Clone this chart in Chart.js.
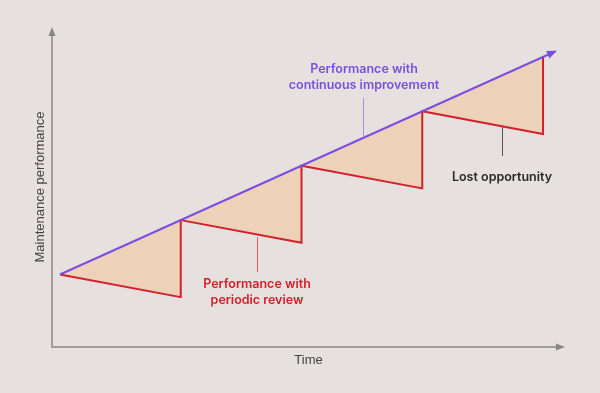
<!DOCTYPE html>
<html>
<head>
<meta charset="utf-8">
<script src="https://cdn.jsdelivr.net/npm/chart.js@4"></script>
<style>
  html, body { margin: 0; padding: 0; background: #e6e0df; }
  #wrap { width: 600px; height: 393px; position: relative; }
</style>
</head>
<body>
<div id="wrap"><canvas id="myChart"></canvas></div>
<script>
// time in review periods, performance in arbitrary units
const continuousTime = [0, 4.1];
const continuousPerf = [16, 65.2];
const periodicTime = [0, 1, 1, 2, 2, 3, 3, 4, 4];
const periodicPerf = [16, 11, 28, 23, 40, 35, 52, 47, 64];

const xAxisLabel = 'Time';
const yAxisLabel = 'Maintenance performance';
const continuousLabel = ['Performance with', 'continuous improvement'];
const periodicLabel = ['Performance with', 'periodic review'];
const lostLabel = 'Lost opportunity';

const purple = '#7a4fe0';
const red = '#d4202a';
const axisGray = '#8a8686';

function toPoints(xs, ys) {
    return xs.map(function (x, i) { return { x: x, y: ys[i] }; });
}

// draws axes with arrows, the arrow on the purple line and the annotations
var decorations = {
    id: 'decorations',
    beforeDatasetsDraw: function (chart) {
        var ctx = chart.ctx;
        var x = chart.scales.x, y = chart.scales.y;
        var left = x.getPixelForValue(x.min), right = x.getPixelForValue(x.max);
        var bottom = y.getPixelForValue(y.min), top = y.getPixelForValue(y.max);
        ctx.save();
        ctx.strokeStyle = axisGray;
        ctx.fillStyle = axisGray;
        ctx.lineWidth = 1.5;
        ctx.beginPath();
        ctx.moveTo(left, top + 6);
        ctx.lineTo(left, bottom);
        ctx.lineTo(right - 6, bottom);
        ctx.stroke();
        // arrow heads
        ctx.beginPath();
        ctx.moveTo(left, top);
        ctx.lineTo(left - 3.5, top + 9);
        ctx.lineTo(left + 3.5, top + 9);
        ctx.closePath();
        ctx.fill();
        ctx.beginPath();
        ctx.moveTo(right, bottom);
        ctx.lineTo(right - 9, bottom - 3.5);
        ctx.lineTo(right - 9, bottom + 3.5);
        ctx.closePath();
        ctx.fill();

        // axis titles
        ctx.fillStyle = '#444';
        ctx.font = '13px "Liberation Sans", Arial, sans-serif';
        ctx.textAlign = 'center';
        ctx.textBaseline = 'middle';
        ctx.fillText(xAxisLabel, (left + right) / 2, bottom + 13);
        ctx.save();
        ctx.translate(left - 12, (top + bottom) / 2);
        ctx.rotate(-Math.PI / 2);
        ctx.fillText(yAxisLabel, 0, 0);
        ctx.restore();

        // pointer lines
        ctx.lineWidth = 1;
        ctx.strokeStyle = '#a58fe0';
        ctx.beginPath(); ctx.moveTo(363.5, 98); ctx.lineTo(363.5, 136); ctx.stroke();
        ctx.strokeStyle = '#d65a5f';
        ctx.beginPath(); ctx.moveTo(257.5, 237); ctx.lineTo(257.5, 272); ctx.stroke();
        ctx.strokeStyle = '#555';
        ctx.beginPath(); ctx.moveTo(502.5, 107); ctx.lineTo(502.5, 156); ctx.stroke();

        // labels
        ctx.font = '600 12.5px Inter, sans-serif';
        ctx.fillStyle = purple;
        ctx.fillText(continuousLabel[0], 364, 69);
        ctx.fillText(continuousLabel[1], 364, 85);
        ctx.fillStyle = red;
        ctx.fillText(periodicLabel[0], 257, 284);
        ctx.fillText(periodicLabel[1], 257, 300);
        ctx.fillStyle = '#2a2828';
        ctx.fillText(lostLabel, 502, 177);
        ctx.restore();
    },
    afterDatasetsDraw: function (chart) {
        var ctx = chart.ctx;
        var pts = chart.getDatasetMeta(0).data;
        var a = pts[pts.length - 2], b = pts[pts.length - 1];
        var ang = Math.atan2(b.y - a.y, b.x - a.x);
        ctx.save();
        ctx.fillStyle = purple;
        ctx.translate(b.x, b.y);
        ctx.rotate(ang);
        ctx.beginPath();
        ctx.moveTo(2, 0);
        ctx.lineTo(-8, -4);
        ctx.lineTo(-8, 4);
        ctx.closePath();
        ctx.fill();
        ctx.restore();
    }
};

var ctx = document.getElementById('myChart').getContext('2d');
var chart = new Chart(ctx, {
    type: 'line',
    data: {
        datasets: [{
            label: 'Performance with continuous improvement',
            data: toPoints(continuousTime, continuousPerf),
            borderColor: purple,
            borderWidth: 2,
            pointRadius: 0,
            fill: false
        }, {
            label: 'Performance with periodic review',
            data: toPoints(periodicTime, periodicPerf),
            borderColor: red,
            borderWidth: 2,
            pointRadius: 0,
            borderJoinStyle: 'miter',
            backgroundColor: '#edd2b9',
            fill: { target: 0 }
        }]
    },
    plugins: [decorations],
    options: {
        responsive: true,
        maintainAspectRatio: false,
        animation: false,
        layout: { padding: { left: 52, right: 35, top: 27, bottom: 46 } },
        scales: {
            x: { type: 'linear', display: false, min: -0.066, max: 4.182 },
            y: { type: 'linear', display: false, min: 0, max: 70.6 }
        },
        plugins: {
            legend: { display: false },
            tooltip: { enabled: false }
        }
    }
});
</script>
</body>
</html>
